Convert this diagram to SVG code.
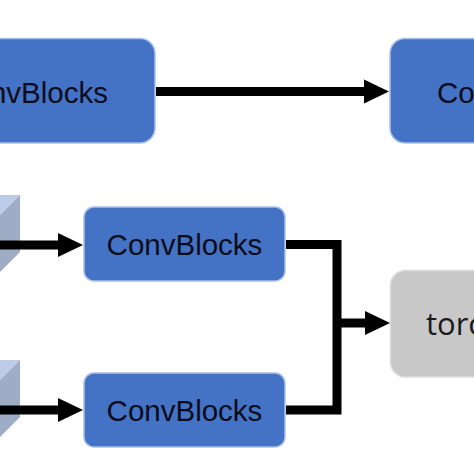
<svg xmlns="http://www.w3.org/2000/svg" width="474" height="474" viewBox="0 0 474 474">
<style>
.blue{fill:#4472c4;stroke:#a9c1e8;stroke-width:1.5}
.gray{fill:#c8c8c8;stroke:#dcdcdc;stroke-width:1.5}
.lbl{font-family:"Liberation Sans",Arial,sans-serif;font-size:29.5px;fill:#0b0d1c}
.lbl2{font-family:"Open Sans","Noto Sans",sans-serif;font-size:31px;fill:#1a1a1a}
.conn{fill:none;stroke:#000;stroke-width:9}
.top{fill:#bccbe6}
.side{fill:#9eacc6}
</style>
<defs>
<marker id="ah" markerUnits="userSpaceOnUse" markerWidth="25" markerHeight="24" refX="0" refY="12" orient="auto" overflow="visible">
<path d="M0,0 L25,12 L0,24 Z" fill="#000"/>
</marker>
</defs>
<rect width="474" height="474" fill="#fff"/>
<g id="cube1">
<polygon class="top" points="0,195 20,195 0,215"/>
<polygon class="side" points="20,195 20,252 0,272 0,215"/>
</g>
<g id="cube2">
<polygon class="top" points="0,360 20,360 0,380"/>
<polygon class="side" points="20,360 20,417 0,437 0,380"/>
</g>
<g id="top-left">
<rect class="blue" x="-100" y="38.5" width="255" height="104.5" rx="15"/>
<text class="lbl" x="108" y="103" text-anchor="end">nvBlocks</text>
</g>
<g id="top-right">
<rect class="blue" x="390" y="38.5" width="200" height="104.5" rx="15"/>
<text class="lbl" x="437" y="103">Co</text>
</g>
<g id="convblocks-1">
<rect class="blue" x="84" y="207" width="201" height="74" rx="10"/>
<text class="lbl" x="184.5" y="255" text-anchor="middle">ConvBlocks</text>
</g>
<g id="convblocks-2">
<rect class="blue" x="84" y="373" width="201" height="74" rx="10"/>
<text class="lbl" x="184.5" y="421" text-anchor="middle">ConvBlocks</text>
</g>
<g id="torch">
<rect class="gray" x="390.5" y="270.5" width="200" height="106.5" rx="15"/>
<text class="lbl2" x="426" y="335">torc</text>
</g>
<g id="connectors">
<path class="conn" d="M156,91.5 H364" marker-end="url(#ah)"/>
<path class="conn" d="M0,245 H58" marker-end="url(#ah)"/>
<path class="conn" d="M0,410 H58" marker-end="url(#ah)"/>
<path class="conn" d="M286,244.5 H337 V410 H286"/>
<path class="conn" d="M337,323 H365" marker-end="url(#ah)"/>
</g>
</svg>
